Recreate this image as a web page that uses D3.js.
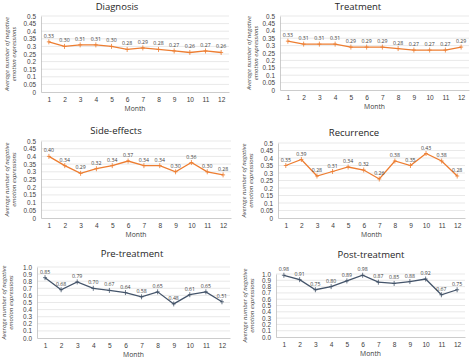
<!DOCTYPE html>
<html>
<head>
<meta charset="utf-8">
<script src="https://cdn.jsdelivr.net/npm/d3@7"></script>
<style>
  body { margin: 0; background: #fff; }
  svg { display: block; font-family: "Open Sans", "Liberation Sans", Arial, sans-serif; }
</style>
</head>
<body>
<script>
const months = ['1', '2', '3', '4', '5', '6', '7', '8', '9', '10', '11', '12'];

const titles = ['Diagnosis', 'Treatment', 'Side-effects', 'Recurrence', 'Pre-treatment', 'Post-treatment'];

const diagnosis = [0.33, 0.30, 0.31, 0.31, 0.30, 0.28, 0.29, 0.28, 0.27, 0.26, 0.27, 0.26];
const treatment = [0.33, 0.31, 0.31, 0.31, 0.29, 0.29, 0.29, 0.28, 0.27, 0.27, 0.27, 0.29];
const sideEffects = [0.40, 0.34, 0.29, 0.32, 0.34, 0.37, 0.34, 0.34, 0.30, 0.36, 0.30, 0.28];
const recurrence = [0.35, 0.39, 0.28, 0.31, 0.34, 0.32, 0.26, 0.38, 0.35, 0.43, 0.38, 0.28];
const preTreatment = [0.85, 0.68, 0.79, 0.70, 0.67, 0.64, 0.58, 0.65, 0.48, 0.61, 0.65, 0.51];
const postTreatment = [0.98, 0.91, 0.75, 0.80, 0.89, 0.98, 0.87, 0.85, 0.88, 0.92, 0.67, 0.75];

const smallTicks = [0, 0.05, 0.1, 0.15, 0.2, 0.25, 0.3, 0.35, 0.4, 0.45, 0.5];
const bigTicks = [0, 0.1, 0.2, 0.3, 0.4, 0.5, 0.6, 0.7, 0.8, 0.9, 1.0];

const yTitle = ['Average number of negative', 'emotion expressions'];

// panel geometry (pixels)
const panels = [
  { values: diagnosis, ticks: smallTicks, max: 0.5, fmt: d => String(d), color: '#ED7D31',
    left: 41, right: 229, top: 16, bottom: 92, titleX: 117, titleY: 10, yt: 6 },
  { values: treatment, ticks: smallTicks, max: 0.5, fmt: d => String(d), color: '#ED7D31',
    left: 280, right: 469, top: 16, bottom: 90, titleX: 358, titleY: 10, yt: 248 },
  { values: sideEffects, ticks: smallTicks, max: 0.5, fmt: d => String(d), color: '#ED7D31',
    left: 41, right: 231, top: 141, bottom: 218, titleX: 116, titleY: 134, yt: 6 },
  { values: recurrence, ticks: smallTicks, max: 0.5, fmt: d => String(d), color: '#ED7D31',
    left: 278, right: 465, top: 143, bottom: 218, titleX: 354, titleY: 136, yt: 243 },
  { values: preTreatment, ticks: bigTicks, max: 1.0, fmt: d3.format('.1f'), color: '#44546A',
    left: 37, right: 230, top: 267, bottom: 338, titleX: 132, titleY: 257, yt: 3 },
  { values: postTreatment, ticks: bigTicks, max: 1.0, fmt: d3.format('.1f'), color: '#44546A',
    left: 276, right: 465, top: 274, bottom: 337, titleX: 371, titleY: 258, yt: 244 }
];

const svg = d3.select('body')
  .append('svg')
  .attr('width', 474)
  .attr('height', 361);

panels.forEach((p, i) => {
  const g = svg.append('g');

  const xScale = d3.scalePoint()
    .domain(months)
    .range([p.left, p.right])
    .padding(0.5);

  const yScale = d3.scaleLinear()
    .domain([0, p.max])
    .range([p.bottom, p.top]);

  // gridlines
  g.append('g')
    .selectAll('line')
    .data(p.ticks.slice(1))
    .enter()
    .append('line')
    .attr('x1', p.left)
    .attr('x2', p.right)
    .attr('y1', d => yScale(d))
    .attr('y2', d => yScale(d))
    .attr('stroke', '#E0E0E0')
    .attr('stroke-width', 0.7);

  // y axis
  const yAxis = g.append('g')
    .attr('transform', 'translate(' + p.left + ',0)')
    .call(d3.axisLeft(yScale).tickValues(p.ticks).tickFormat(p.fmt).tickSize(0).tickPadding(5));
  yAxis.select('.domain').attr('stroke', '#BFBFBF').attr('stroke-width', 0.8);
  yAxis.selectAll('text').attr('fill', '#404040').style('font-size', '6.4px');

  // x axis
  const xAxis = g.append('g')
    .attr('transform', 'translate(0,' + p.bottom + ')')
    .call(d3.axisBottom(xScale).tickSize(0).tickPadding(5));
  xAxis.select('.domain').attr('stroke', '#BFBFBF').attr('stroke-width', 0.8);
  xAxis.selectAll('text').attr('fill', '#404040').style('font-size', '6.6px');

  g.append('text')
    .attr('x', (p.left + p.right) / 2)
    .attr('y', p.bottom + 19)
    .attr('text-anchor', 'middle')
    .attr('fill', '#404040')
    .style('font-size', '6.8px')
    .text('Month');

  g.append('text')
    .attr('x', p.titleX)
    .attr('y', p.titleY)
    .attr('text-anchor', 'middle')
    .attr('fill', '#262626')
    .style('font-size', '9.5px')
    .text(titles[i]);

  // y axis title
  const yc = (p.top + p.bottom) / 2;
  yTitle.forEach((line, k) => {
    g.append('text')
      .attr('transform', 'translate(' + (p.yt + 3 + k * 7) + ',' + yc + ') rotate(-90)')
      .attr('text-anchor', 'middle')
      .attr('fill', '#404040')
      .style('font-size', '6px')
      .style('font-style', 'italic')
      .text(line);
  });

  // line
  const line = d3.line()
    .x((d, j) => xScale(months[j]))
    .y(d => yScale(d));

  g.append('path')
    .datum(p.values)
    .attr('d', line)
    .attr('fill', 'none')
    .attr('stroke', p.color)
    .attr('stroke-width', 1.3);

  // plus markers
  const marks = g.append('g')
    .selectAll('g')
    .data(p.values)
    .enter()
    .append('g')
    .attr('transform', (d, j) => 'translate(' + xScale(months[j]) + ',' + yScale(d) + ')');
  marks.append('line')
    .attr('x1', -2).attr('x2', 2)
    .attr('stroke', p.color).attr('stroke-width', 0.8);
  marks.append('line')
    .attr('y1', -2.5).attr('y2', 2.5)
    .attr('stroke', p.color).attr('stroke-width', 0.8);

  // data labels
  g.append('g')
    .selectAll('text')
    .data(p.values)
    .enter()
    .append('text')
    .attr('x', (d, j) => xScale(months[j]))
    .attr('y', d => yScale(d) - 4)
    .attr('text-anchor', 'middle')
    .attr('fill', '#404040')
    .style('font-size', '5.2px')
    .text(d => d3.format('.2f')(d));
});
</script>
</body>
</html>
